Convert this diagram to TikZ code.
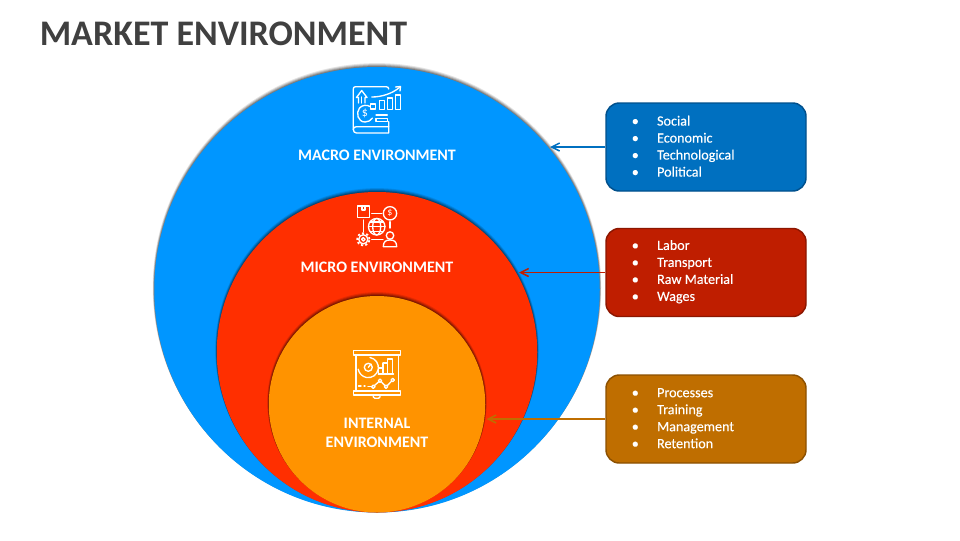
\documentclass[tikz,border=0pt]{standalone}
\usepackage{fontspec}
\setmainfont{Carlito}
\definecolor{macroC}{HTML}{0096FF}
\definecolor{microC}{HTML}{FF2F00}
\definecolor{internC}{HTML}{FF9300}
\definecolor{blueBox}{HTML}{0070C0}
\definecolor{blueEdge}{HTML}{00508C}
\definecolor{redBox}{HTML}{BF1E00}
\definecolor{redEdge}{HTML}{8C1600}
\definecolor{orBox}{HTML}{BF6E00}
\definecolor{orEdge}{HTML}{8C5000}
\definecolor{titleC}{HTML}{404040}
\newcommand{\softrim}[3]{%
  \foreach \d/\o in {3/0.10,2.25/0.14,1.5/0.18,0.75/0.22}{%
    \fill[black,opacity=\o] (#1,#2-0.8*\d) circle[radius={(#3+0.5*\d)*0.75pt}];}}
\newcommand{\bul}[1]{\makebox[19pt][l]{\textbullet}#1}
\tikzset{
  x=0.75pt,y=-0.75pt,
  disc/.style={circle,inner sep=0pt,minimum size=#1*1.5pt,draw=none},
  panel/.style={rounded corners=10pt,minimum width=150pt,minimum height=66pt,inner sep=0pt,line width=1.1pt},
  items/.style={anchor=west,text=white,align=left,inner sep=0pt,font=\fontsize{10.6}{12.75}\selectfont\addfontfeatures{FakeBold=0.25}},
  head/.style={text=white,align=center,inner sep=0pt,font=\fontsize{12}{14.2}\selectfont\bfseries},
  link/.style={line width=1.1pt,-{Straight Barb[length=6pt,width=6pt]}},
  ico/.style={draw=white,line width=1pt,line cap=round,line join=round},
}
\usetikzlibrary{arrows.meta}
\begin{document}
\begin{tikzpicture}
\useasboundingbox (0,0) rectangle (960,540);
\fill[white] (0,0) rectangle (960,540);
\node[anchor=west,inner sep=0pt,text=titleC,font=\fontsize{27}{30}\selectfont\bfseries] (title) at (39.5,34) {MARKET ENVIRONMENT};

\softrim{377}{289.75}{222.75}
\node[disc=222.75,fill=macroC] (macro) at (377,289.75) {};
\softrim{377}{352.25}{160.25}
\node[disc=160.25,fill=microC] (micro) at (377,352.25) {};
\softrim{377}{404.25}{108.25}
\node[disc=108.25,fill=internC] (intern) at (377,404.25) {};

\node[head] (macroT) at (377,155) {MACRO ENVIRONMENT};
\node[head] (microT) at (377,267) {MICRO ENVIRONMENT};
\node[head] (internT) at (377,432.5) {INTERNAL\\ENVIRONMENT};

\node[panel,fill=blueBox,draw=blueEdge] (boxA) at (706,147) {};
\node[panel,fill=redBox,draw=redEdge] (boxB) at (706,272.5) {};
\node[panel,fill=orBox,draw=orEdge] (boxC) at (706,419) {};

\node[items] (listA) at (631.5,146.2) {\bul{Social}\\\bul{Economic}\\\bul{Technological}\\\bul{Political}};
\node[items] (listB) at (631.5,271.7) {\bul{Labor}\\\bul{Transport}\\\bul{Raw Material}\\\bul{Wages}};
\node[items] (listC) at (631.5,418.2) {\bul{Processes}\\\bul{Training}\\\bul{Management}\\\bul{Retention}};

\coordinate (tipA) at (550,147);
\coordinate (tipB) at (519,272.5);
\coordinate (tipC) at (486.5,419);
\draw[link,blueBox] (boxA.west) -- (tipA);
\draw[link,redBox] (boxB.west) -- (tipB);
\draw[link,orBox] (boxC.west) -- (tipC);

% macro icon
\draw[ico] (388.7,126.7) -- (388.7,133) -- (356.5,133) .. controls (354.5,133) and (353.3,131.5) .. (353.3,129.5) -- (353.3,89) .. controls (353.3,87.5) and (354,86.7) .. (355.5,86.7) -- (386,86.7) .. controls (387.8,86.7) and (388.7,87.5) .. (388.7,89);
\draw[ico] (353.3,129.5) .. controls (353.3,127.7) and (354.5,126.7) .. (356.5,126.7) -- (388.7,126.7) -- (388.7,121.7);
\draw[ico] (358.5,103) -- (358.5,97.5) -- (356.5,97.5) -- (361.7,90.5) -- (367,97.5) -- (365,97.5) -- (365,103);
\draw[ico] (361.7,97) -- (361.7,103);
\draw[ico] (371.7,97) .. controls (381,97) and (392,94) .. (400,87);
\draw[ico] (395.5,87) -- (400.5,86.5) -- (400,91);
\draw[ico] (370.7,104) rectangle (375.7,109);
\draw[ico] (379.3,100.7) rectangle (384.3,109.3);
\draw[ico] (387.3,98) rectangle (392.3,109.3);
\draw[ico] (395.7,95) rectangle (400.7,109.3);
\draw[ico] (370,106.5) .. controls (367,104.5) and (362,105) .. (359.5,108) .. controls (355.5,113) and (358,122) .. (365,122) .. controls (368,122) and (371,120.5) .. (372.5,118);
\node[text=white,inner sep=0pt,font=\fontsize{9}{9}\selectfont] (dollarA) at (365,113.5) {\$};
\draw[ico] (376,115) -- (387.3,115);
\draw[ico] (376,118.3) rectangle (387.3,121.7);

% micro icon
\draw[ico] (357.7,206) rectangle (369.3,217.7);
\draw[ico] (362,206) -- (362,210) -- (365,210) -- (365,206);
\draw[ico] (390,213.3) circle[radius=5pt];
\node[text=white,inner sep=0pt,font=\fontsize{7.5}{7.5}\selectfont] (dollarB) at (390,213.3) {\$};
\draw[ico] (376.7,226.7) circle[radius=6.2pt];
\draw[ico] (376.7,226.7) ellipse[x radius=3pt,y radius=6.2pt];
\draw[ico] (368.5,226.7) -- (385,226.7) (370,222) -- (383.5,222) (370,231.4) -- (383.5,231.4);
\draw[ico] (371.7,213.3) -- (381.7,213.3) (363.3,220) -- (363.3,231.7) (390,221.7) -- (390,228) (371.7,239.3) -- (383,239.3);
\draw[ico,dash pattern=on 1.6pt off 1.7pt,line width=1.3pt,line cap=butt] (363.3,239.3) circle[radius=4.6pt];
\draw[ico] (363.3,239.3) circle[radius=3.4pt] (363.3,239.3) circle[radius=1.3pt];
\draw[ico] (390,235.5) circle[radius=2.8pt];
\draw[ico] (383.3,246.7) .. controls (383.3,241.5) and (386,240) .. (390,240) .. controls (394,240) and (396.7,241.5) .. (396.7,246.7) -- cycle;

% internal icon
\draw[ico] (353.3,350.7) rectangle (400.7,355);
\draw[ico] (353.3,391) rectangle (400.7,395);
\draw[ico] (356,355) -- (356,391) (398.3,355) -- (398.3,391);
\draw[ico] (373.3,395) -- (373.3,397) .. controls (373.3,398) and (374,398.3) .. (375,398.3) -- (378.5,398.3) .. controls (379.5,398.3) and (380,398) .. (380,397) -- (380,395);
\draw[ico] (370,357.5) arc[start angle=80,end angle=-170,radius=7.6pt];
\draw[ico] (368.3,367.3) circle[radius=3pt];
\draw[ico] (368.3,367.3) -- (371,364);
\draw[ico] (378.3,374) -- (393.5,374) (378.5,374) -- (378.5,368) -- (383,368) -- (383,374) (383,363) -- (387.5,363) -- (387.5,374) (383,368) -- (383,363) (387.5,359) -- (392.5,359) -- (392.5,374) (387.5,363) -- (387.5,359);
\draw[ico] (358.5,386) -- (361,386) (364,386) -- (365,386) (368,386.5) -- (371.5,386.5);
\draw[ico] (374.5,385.5) -- (378.8,381.7) (381.2,381.7) -- (384.8,385.5) (387.4,385.5) -- (391.5,381.2);
\draw[ico] (373.3,386.7) circle[radius=1.3pt] (380,380.7) circle[radius=1.3pt] (386,386.7) circle[radius=1.3pt] (392.7,380) circle[radius=1.3pt];
\end{tikzpicture}
\end{document}
